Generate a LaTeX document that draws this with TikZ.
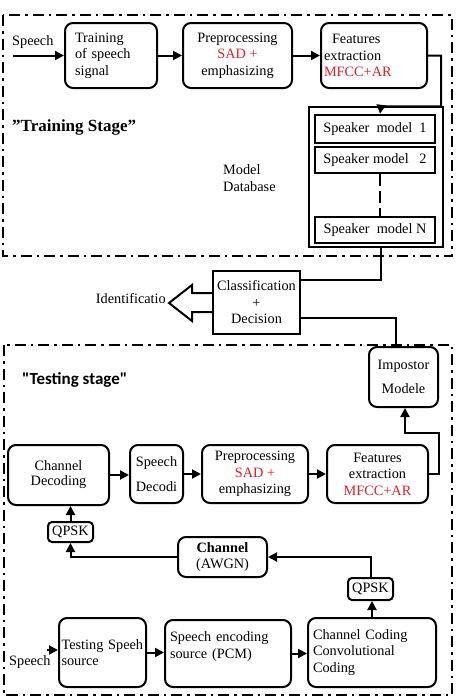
\documentclass[tikz,border=0pt]{standalone}
\usepackage{fontspec}
\setmainfont{Liberation Serif}
\newfontfamily\carlito{Carlito}
\usetikzlibrary{arrows.meta,calc}
\definecolor{myred}{RGB}{228,30,36}
\begin{document}
\begin{tikzpicture}[x=1pt,y=-1pt,
  every node/.style={font=\fontsize{14.3}{16.5}\selectfont, inner sep=0pt},
  bx/.style 2 args={minimum width=#1pt, minimum height=#2pt},
  rbox/.style={draw, line width=2pt, rounded corners=8pt, align=center},
  sbox/.style={draw, line width=2pt, align=center},
  spk/.style={draw, line width=2.5pt, align=center},
  frame/.style={line width=2.5pt, dash pattern=on 11pt off 5pt on 2.5pt off 5pt},
  arr/.style={line width=2pt, -{Triangle[length=9pt,width=9pt]}},
  conn/.style={line width=2pt}]
\useasboundingbox (0,0) rectangle (474,697);

% frames
\draw[frame] (3,15) rectangle (452,256);
\draw[frame] (4,345) rectangle (452,695);

% training stage
\node[anchor=west] (sp1) at (12,42) {Speech};
\coordinate (s1) at (13,55.5);
\node[rbox, bx={92}{65}, text width=72pt, align=left] (train) at (111,55.5) {Training\\ of speech\\ signal};
\node[rbox, bx={109}{65}] (pre1) at (237.5,55.5) {Preprocessing\\ \textcolor{myred}{SAD +}\\ emphasizing};
\node[rbox, bx={106}{65}, text width=100pt, align=left] (feat1) at (374,55.5) {\hspace*{8pt}Features\\ extraction\\ \textcolor{myred}{MFCC+AR}};
\node[draw, line width=1.5pt, bx={134}{140}] (db) at (376,177) {};
\node[spk, bx={120}{28}] (sm1) at (375,129) {Speaker\ \ model\ \ 1};
\node[spk, bx={120}{26}] (sm2) at (375,160) {Speaker model\ \ \ 2};
\node[spk, bx={120}{26}] (smN) at (375,230) {Speaker\ \ model N};
\node[anchor=west, align=left] (mdb) at (223,178) {Model\\ Database};
\node[anchor=west, font=\fontsize{17}{20}\selectfont\bfseries] (tstage) at (12,127) {\symbol{"22}Training Stage\symbol{"22}};

\draw[arr] (s1) -- (train.west);
\draw[arr] (train) -- (pre1);
\draw[arr] (pre1) -- (feat1);
\draw[arr] (feat1.east) -- ++(13,0) |- ([xshift=5pt]db.north) -- ([xshift=5pt]sm1.north);
\draw[line width=2pt, dash pattern=on 12pt off 5pt] ([xshift=5pt]sm2.south) -- ([xshift=5pt]smN.north);

% classification
\node[sbox, bx={87}{63}] (cls) at (256.5,302.5) {Classification\\ +\\ Decision};
\node[anchor=east] (ident) at (166,299) {Identificatio};
\draw[line width=2pt, line join=miter] ($(cls.west)+(0,-9.5)$) -- (192,293) -- (192,285) -- (169,303) -- (192,321) -- (192,312) -- ($(cls.west)+(0,9.5)$);
\draw[conn] ([xshift=5pt]db.south) |- ($(cls.east)+(0,-22.5)$);

% testing stage
\node[anchor=west, font=\fontsize{17}{20}\selectfont\carlito\bfseries] (testst) at (22,380) {\symbol{"22}Testing stage\symbol{"22}};
\node[rbox, bx={69}{60}] (imp) at (403.5,377) {Impostor\\[7pt] Modele};
\draw[conn] ($(imp.north)+(-7.5,0)$) |- ($(cls.east)+(0,15.5)$);

\node[rbox, bx={101}{60}] (chdec) at (58.5,475) {Channel\\[-1.5pt] Decoding};
\node[rbox, bx={53}{58}] (spdec) at (156.5,474) {Speech\\[8pt] Decodi};
\node[rbox, bx={106}{58}] (pre2) at (255,474) {Preprocessing\\ \textcolor{myred}{SAD +}\\ emphasizing};
\node[rbox, bx={101}{58}] (feat2) at (377.5,474) {Features\\ extraction\\ \textcolor{myred}{MFCC+AR}};
\draw[arr] (chdec.east) -- (chdec.east -| spdec.west);
\draw[arr] (spdec) -- (pre2);
\draw[arr] (pre2) -- (feat2);
\draw[arr] (feat2.east) -- ++(10,0) |- ($(imp.south)+(1.5,25)$) -- ($(imp.south)+(1.5,0)$);

\node[rbox, rounded corners=4pt, bx={45}{20}] (q1) at (70.5,532) {QPSK};
\draw[arr] (q1.north) -- (q1.north |- chdec.south);
\node[rbox, bx={89}{40}] (awgn) at (222.5,557) {\textbf{Channel}\\ (AWGN)};
\draw[arr] (awgn.west) -| (q1.south);
\node[rbox, rounded corners=4pt, bx={45}{22}] (q2) at (370.5,589) {QPSK};
\draw[arr] (q2.north) |- (awgn.east);

\node[rbox, bx={87}{69}, text width=82pt, align=left] (tsrc) at (102.5,652.5) {Testing Speeh\\ source};
\node[rbox, bx={126}{67}, text width=116pt, align=left] (senc) at (228,653.5) {Speech encoding\\ source (PCM)\\ \mbox{}};
\node[rbox, bx={128}{69}, text width=118pt, align=left] (ccod) at (372,652.5) {Channel Coding\\ Convolutional\\ Coding};
\node[anchor=west] (sp2) at (9,662) {Speech};
\coordinate (s2) at (47,650);
\draw[arr] (s2) -- (s2 -| tsrc.west);
\draw[arr] (tsrc.east) -- (tsrc.east -| senc.west);
\draw[arr] (senc.east) -- (senc.east -| ccod.west);
\draw[arr] (ccod.north) -- (ccod.north |- q2.south);
\end{tikzpicture}
\end{document}
